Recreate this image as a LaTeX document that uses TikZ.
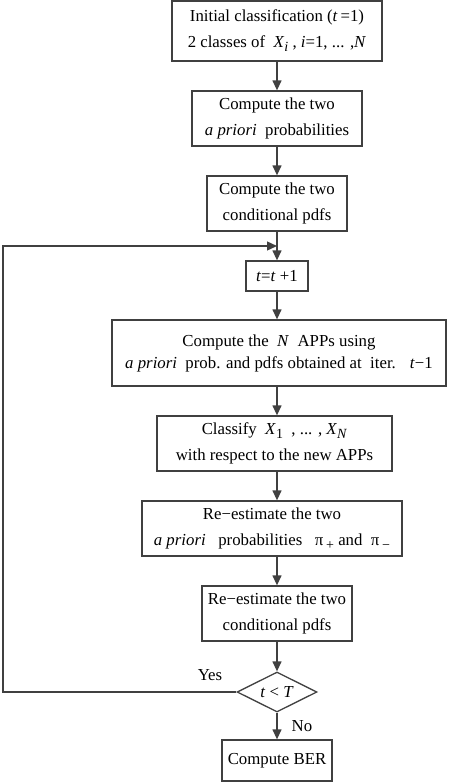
\documentclass[tikz,border=0pt]{standalone}
\usepackage{fontspec}
\setmainfont{Liberation Serif}
\usetikzlibrary{arrows.meta,shapes.geometric}
\newcommand{\lowsub}[1]{\raisebox{-4pt}{\fontsize{14}{14}\selectfont #1}}
\begin{document}
\begin{tikzpicture}[x=1pt,y=1pt,
  every node/.style={font=\fontsize{16.8}{26}\selectfont, text=black},
  stepbox/.style={draw=black!75, line width=1.3pt, align=center, inner sep=0pt},
  decide/.style={draw=black!75, line width=1.3pt, diamond, aspect=2, inner sep=0pt},
  flow/.style={draw=black!75, line width=1.3pt, -{Triangle[length=10pt,width=9pt]}},
  plain/.style={draw=black!75, line width=1.3pt}]
\useasboundingbox (0,0) rectangle (448,-782);
\node[stepbox, minimum width=210, minimum height=60] (b1) at (277,-31)
  {Initial classification (\textit{t}\,=1)\\ 2 classes of \ \textit{X}\lowsub{\textit{i}} , \textit{i}=1, ... ,\textit{N}};
\node[stepbox, minimum width=170, minimum height=55] (b2) at (277,-118.5)
  {Compute the two\\ \textit{a priori} \ probabilities};
\node[stepbox, minimum width=140, minimum height=55] (b3) at (277,-203.5)
  {Compute the two\\ conditional pdfs};
\node[stepbox, minimum width=62, minimum height=30] (b4) at (277,-276)
  {\textit{t}=\textit{t} +1};
\node[stepbox, minimum width=334, minimum height=66, font=\fontsize{16.8}{22}\selectfont] (b5) at (279,-353)
  {Compute the \ \textit{N} \ APPs using\\ \textit{a priori} \ prob. and pdfs obtained at \ iter. \ \ \textit{t}−1};
\node[stepbox, minimum width=235, minimum height=55] (b6) at (274.5,-443.5)
  {Classify \ \textit{X}\lowsub{1} \ , ... , \textit{X}\lowsub{\textit{N}}\\ with respect to the new APPs};
\node[stepbox, minimum width=260, minimum height=55] (b7) at (272,-528.5)
  {Re−estimate the two\\ \textit{a priori} \ \ probabilities \ \ π\,\lowsub{+} and \ π\,\lowsub{−}};
\node[stepbox, minimum width=150, minimum height=55] (b8) at (277,-613.5)
  {Re−estimate the two\\ conditional pdfs};
\node[decide, minimum width=80, minimum height=40] (d) at (277,-692)
  {\textit{t} {<} \textit{T}};
\node[stepbox, minimum width=110, minimum height=41] (b9) at (277,-760.5)
  {Compute BER};
\node (yes) at (210,-675) {Yes};
\node (no) at (302,-726) {No};
\coordinate (j) at (277,-246);
\coordinate (L) at (3,-246);
\draw[flow] (b1.south) -- (b2.north);
\draw[flow] (b2.south) -- (b3.north);
\draw[flow] (b3.south) -- (b4.north);
\draw[flow] (b4.south) -- (b4.south |- b5.north);
\draw[flow] (b4.south |- b5.south) -- (b4.south |- b6.north);
\draw[flow] (b4.south |- b6.south) -- (b4.south |- b7.north);
\draw[flow] (b4.south |- b7.south) -- (b8.north);
\draw[flow] (b8.south) -- (d.north);
\draw[flow] (d.south) -- (b9.north);
\draw[flow] (d.west) -- (L |- d.west) -- (L) -- (j);
\end{tikzpicture}
\end{document}
